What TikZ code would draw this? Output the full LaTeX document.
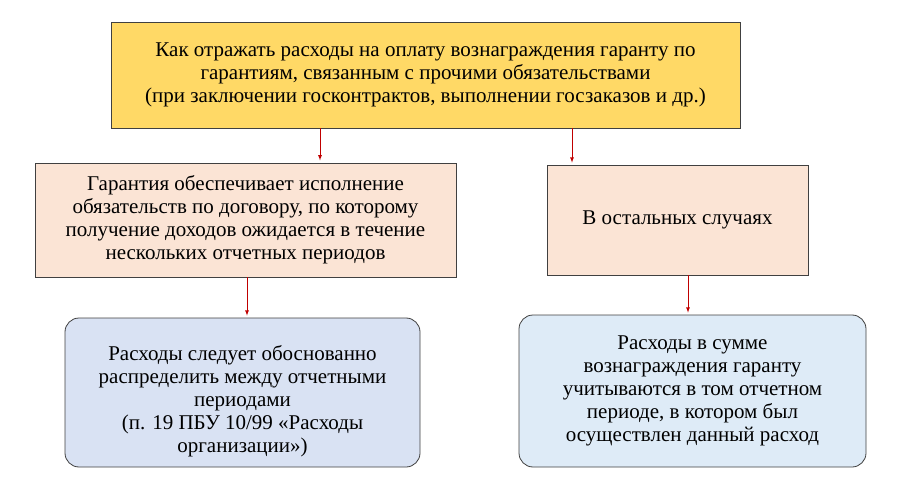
\documentclass[tikz,border=0pt]{standalone}
\usepackage{fontspec}
\setmainfont{Liberation Serif}
\newfontfamily\boxfont{Liberation Serif}
\definecolor{topfill}{HTML}{FFD966}
\definecolor{midfill}{HTML}{FBE4D5}
\definecolor{lowfill}{HTML}{D9E2F3}
\definecolor{lowfillb}{HTML}{DEEBF7}
\definecolor{arrred}{HTML}{C00000}
\begin{document}
\begin{tikzpicture}[x=1pt,y=1pt,
    box/.style={draw=black!75, thick, align=center, font=\boxfont\fontsize{21}{23}\selectfont, inner sep=0pt},
    arr/.style={->, >=latex, draw=arrred, thick}]
        \useasboundingbox (0,0) rectangle (900,499);
        \node (top) [box, fill=topfill, minimum width=629, minimum height=106] at (425.5,424) {Как отражать расходы на оплату вознаграждения гаранту по\\гарантиям, связанным с прочими обязательствами\\(при заключении госконтрактов, выполнении госзаказов и др.)};
        \node (left) [box, fill=midfill, minimum width=421, minimum height=114] at (245.5,279) {Гарантия обеспечивает исполнение\\обязательств по договору, по которому\\получение доходов ожидается в течение\\нескольких отчетных периодов};
        \node (right) [box, fill=midfill, minimum width=261, minimum height=110] at (677.5,279) {В остальных случаях};
        \node (lowleft) [box, fill=lowfill, rounded corners=14, minimum width=355, minimum height=149] at (242.5,106.5) {};
        \node at (lowleft.center) [align=center, font=\boxfont\fontsize{21}{23}\selectfont, yshift=-9] {Расходы следует обоснованно\\распределить между отчетными\\периодами\\(п. 19 ПБУ 10/99 «Расходы\\организации»)};
        \node (lowright) [box, fill=lowfillb, rounded corners=14, minimum width=347, minimum height=152] at (692.5,108) {Расходы в сумме\\вознаграждения гаранту\\учитываются в том отчетном\\периоде, в котором был\\осуществлен данный расход};

        \draw[arr] ([xshift=-105.5]top.south) -- ++(0,-32);
        \draw[arr] ([xshift=146.5]top.south) -- ([xshift=-105.5,yshift=2]right.north);
        \draw[arr] ([xshift=1.5]left.south) -- ([xshift=4.5,yshift=2]lowleft.north);
        \draw[arr] ([xshift=10.5]right.south) -- ([xshift=-4.5,yshift=2]lowright.north);
\end{tikzpicture}
\end{document}
